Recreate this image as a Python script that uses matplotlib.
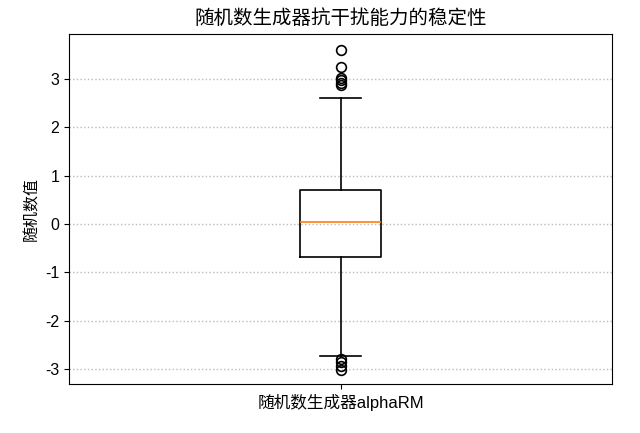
import matplotlib
matplotlib.use('Agg')
import matplotlib.pyplot as plt

plt.rcParams['font.family'] = ['Liberation Sans', 'Noto Sans CJK SC', 'DejaVu Sans']
plt.rcParams['axes.unicode_minus'] = False

# box statistics
label = '随机数生成器alphaRM'
median = 0.04
q1, q3 = -0.68, 0.70
whislo, whishi = -2.73, 2.61
fliers_hi = [3.60, 3.25, 3.02, 2.97, 2.92, 2.88]
fliers_lo = [-2.79, -2.85, -2.93, -3.02]

stats = [{
    'label': label,
    'med': median,
    'q1': q1,
    'q3': q3,
    'whislo': whislo,
    'whishi': whishi,
    'fliers': fliers_hi + fliers_lo,
}]

fig = plt.figure(figsize=(6.4, 4.33), dpi=100)
ax = fig.add_axes([69 / 640, 1 - 384 / 433, 543 / 640, 350 / 433])

ax.bxp(stats, widths=0.15, showfliers=True,
       flierprops=dict(marker='o', markersize=7, markerfacecolor='none',
                       markeredgecolor='black', markeredgewidth=1.2),
       boxprops=dict(linewidth=1.2),
       whiskerprops=dict(linewidth=1.2),
       capprops=dict(linewidth=1.2),
       medianprops=dict(color='#ff7f0e', linewidth=1.2))

ax.set_ylim(-3.31, 3.93)
ax.set_yticks([-3, -2, -1, 0, 1, 2, 3])
ax.yaxis.grid(True, linestyle=':', color='#bbbbbb', linewidth=1)
ax.set_axisbelow(True)
ax.tick_params(axis='y', labelsize=11.5)
ax.tick_params(axis='x', labelsize=12)

ax.set_title('随机数生成器抗干扰能力的稳定性', fontsize=14, pad=7)
ax.set_ylabel('随机数值', fontsize=11.5)

fig.savefig('out.png', dpi=100)
